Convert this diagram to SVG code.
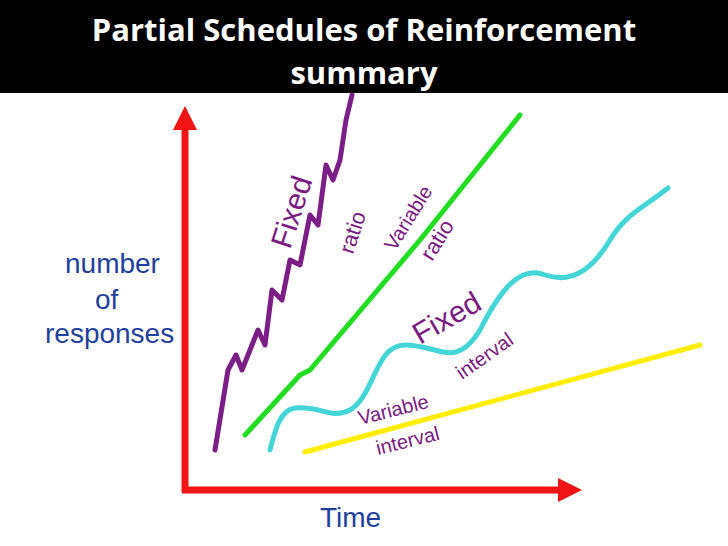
<svg xmlns="http://www.w3.org/2000/svg" width="728" height="546" viewBox="0 0 728 546">
<style>
.t{font-family:"Open Sans","Liberation Sans",sans-serif;font-weight:bold;fill:#fff;font-size:31px;text-anchor:middle}
.ax{font-family:"Liberation Sans",sans-serif;fill:#1f3fa0;font-size:28px}
.lp{font-family:"Liberation Sans",sans-serif;fill:#7a1a82}
.c{fill:none;stroke-width:5;stroke-linecap:round;stroke-linejoin:round}
</style>
<rect width="728" height="546" fill="#fff"/>
<g id="title"><rect x="0" y="0" width="728" height="93" fill="#000"/>
<text class="t" x="364" y="41">Partial Schedules of Reinforcement</text>
<text class="t" x="364" y="84">summary</text></g>
<g id="axes" fill="#f01414" stroke="#f01414">
<line x1="185" y1="492" x2="185" y2="125" stroke-width="7"/>
<polygon points="185,106 173,130 197,130" stroke="none"/>
<line x1="182" y1="490" x2="563" y2="490" stroke-width="7"/>
<polygon points="582,490 558,478 558,502" stroke="none"/>
</g>
<g id="labels">
<text class="ax" x="65" y="273">number</text>
<text class="ax" x="95" y="309" font-size="23">of</text>
<text class="ax" x="45" y="343">responses</text>
<text class="ax" x="320" y="527" font-size="38">Time</text>
</g>
<g id="curves">
<path class="c" stroke="#7b1f86" d="M215,450 L228,370 L236,355 L242,370 L258,330 L265,345 L272,290 L282,300 L290,260 L300,265 L310,215 L318,225 L326,165 L333,180 L340,160 L346,120 L352,95"/>
<path class="c" stroke="#22dd22" d="M245,435 L300,375 L310,370 L420,240 L520,115"/>
<path class="c" stroke="#44d6d6" d="M270,450 C275,430 280,410 295,408 C320,405 330,420 350,410 C375,395 375,345 405,345 C440,345 455,370 480,330 C500,290 520,265 545,275 C575,285 595,265 610,240 C625,215 640,210 668,188"/>
<path class="c" stroke="#ffee00" d="M305,452 L700,345"/>
</g>
<g id="curve-labels">
<text class="lp" font-size="30" transform="translate(290,250) rotate(-72)">Fixed</text>
<text class="lp" font-size="22" transform="translate(353,255) rotate(-72)">ratio</text>
<text class="lp" font-size="20" transform="translate(395,252) rotate(-58)">Variable</text>
<text class="lp" font-size="22" transform="translate(432,262) rotate(-58)">ratio</text>
<text class="lp" font-size="30" transform="translate(420,345) rotate(-30)">Fixed</text>
<text class="lp" font-size="20" transform="translate(462,380) rotate(-35)">interval</text>
<text class="lp" font-size="20" transform="translate(360,425) rotate(-14)">Variable</text>
<text class="lp" font-size="20" transform="translate(378,455) rotate(-14)">interval</text>
</g>
</svg>
